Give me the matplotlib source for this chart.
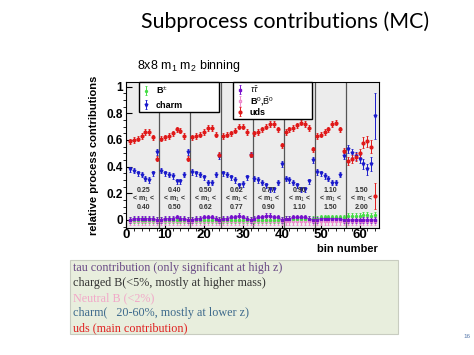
import numpy as np
import matplotlib.pyplot as plt
from matplotlib.patches import Rectangle
from matplotlib.ticker import FixedLocator, MultipleLocator, FuncFormatter

# 8x8 m1 m2 bins, 64 total
bins = list(range(1, 65))

uds = [0.59, 0.60, 0.61, 0.63, 0.66, 0.66, 0.62, 0.46,
       0.61, 0.62, 0.63, 0.65, 0.68, 0.67, 0.63, 0.46,
       0.62, 0.63, 0.64, 0.66, 0.69, 0.69, 0.64, 0.49,
       0.63, 0.64, 0.65, 0.67, 0.70, 0.70, 0.66, 0.49,
       0.65, 0.66, 0.68, 0.70, 0.72, 0.72, 0.68, 0.56,
       0.66, 0.68, 0.69, 0.71, 0.73, 0.72, 0.69, 0.53,
       0.63, 0.64, 0.66, 0.68, 0.72, 0.73, 0.68, 0.52,
       0.44, 0.46, 0.47, 0.50, 0.58, 0.59, 0.55, 0.18]
uds_err = [0.02] * 56 + [0.03, 0.03, 0.03, 0.03, 0.04, 0.04, 0.05, 0.10]

charm = [0.38, 0.37, 0.35, 0.34, 0.31, 0.30, 0.35, 0.51,
         0.37, 0.35, 0.34, 0.33, 0.29, 0.29, 0.34, 0.51,
         0.36, 0.35, 0.34, 0.32, 0.28, 0.28, 0.34, 0.48,
         0.35, 0.34, 0.32, 0.30, 0.26, 0.27, 0.32, 0.49,
         0.31, 0.30, 0.28, 0.26, 0.23, 0.23, 0.28, 0.42,
         0.31, 0.30, 0.28, 0.26, 0.23, 0.23, 0.29, 0.45,
         0.36, 0.35, 0.33, 0.31, 0.28, 0.28, 0.34, 0.48,
         0.53, 0.50, 0.48, 0.46, 0.42, 0.38, 0.42, 0.78]
charm_err = [0.02] * 56 + [0.03, 0.03, 0.03, 0.03, 0.04, 0.04, 0.05, 0.17]

tau = [0.00, 0.01, 0.01, 0.01, 0.01, 0.01, 0.01, 0.00,
       0.00, 0.01, 0.01, 0.01, 0.02, 0.01, 0.01, 0.00,
       0.00, 0.01, 0.01, 0.02, 0.02, 0.02, 0.01, 0.00,
       0.01, 0.01, 0.02, 0.02, 0.03, 0.02, 0.01, 0.00,
       0.01, 0.02, 0.02, 0.03, 0.03, 0.02, 0.02, 0.00,
       0.01, 0.01, 0.02, 0.02, 0.02, 0.02, 0.01, 0.00,
       0.00, 0.01, 0.01, 0.01, 0.01, 0.01, 0.01, 0.00,
       0.00, 0.00, 0.00, 0.00, 0.00, 0.00, 0.00, 0.00]

bpm = [0.00, 0.00, 0.00, 0.00, 0.00, 0.00, 0.00, 0.00,
       0.00, 0.00, 0.00, 0.00, 0.00, 0.00, 0.00, 0.00,
       0.00, 0.00, 0.00, 0.00, 0.00, 0.00, 0.00, 0.00,
       0.00, 0.00, 0.00, 0.00, 0.00, 0.00, 0.00, 0.00,
       0.00, 0.00, 0.00, 0.00, 0.00, 0.00, 0.00, 0.00,
       0.01, 0.01, 0.01, 0.01, 0.01, 0.01, 0.01, 0.01,
       0.01, 0.02, 0.02, 0.02, 0.02, 0.02, 0.02, 0.02,
       0.03, 0.03, 0.03, 0.03, 0.04, 0.04, 0.03, 0.04]

b0 = [-0.01] * 64

block_lo = ["0.25", "0.40", "0.50", "0.62", "0.77", "0.90", "1.10", "1.50"]
block_hi = ["0.40", "0.50", "0.62", "0.77", "0.90", "1.10", "1.50", "2.00"]

plt.rcParams['font.family'] = ['Liberation Sans', 'DejaVu Sans']
plt.rcParams['mathtext.fontset'] = 'custom'
plt.rcParams['mathtext.rm'] = 'Liberation Sans'
plt.rcParams['mathtext.it'] = 'Liberation Sans:italic'
plt.rcParams['mathtext.bf'] = 'Liberation Sans:bold'

fig = plt.figure(figsize=(4.74, 3.55), dpi=100)
ax = fig.add_axes([126 / 474, 1 - 228 / 355, 253 / 474, 146 / 355])
ax.set_facecolor('#ececec')

ekw = dict(linestyle='none', elinewidth=0.7, capsize=1.0, capthick=0.6)
ax.errorbar(bins, b0, yerr=0.025, marker='s', ms=1.8, mfc='white', mec='#ee88cc',
            color='#ee88cc', label='B$^0$,$\\bar{\\rm B}^0$', **ekw)
ax.errorbar(bins, bpm, yerr=0.02, marker='o', ms=1.4, color='#44dd44',
            label='B$^{\\pm}$', **ekw)
ax.errorbar(bins, tau, yerr=0.02, marker='s', ms=1.6, color='#7711cc',
            label='$\\tau\\bar{\\tau}$', **ekw)
ax.plot(bins, tau, color='#8822dd', lw=1.0, alpha=0.7)
ax.errorbar(bins, charm, yerr=charm_err, marker='v', ms=2.0, color='#1a1acc',
            label='charm', **ekw)
ax.errorbar(bins, uds, yerr=uds_err, marker='o', ms=2.0, color='#e01818',
            label='uds', **ekw)

for k in range(1, 8):
    ax.axvline(8 * k + 0.5, color='#555555', lw=0.9, zorder=0.5)

for k in range(8):
    xc = 8 * k + 4.5
    ax.text(xc, 0.225, block_lo[k], ha='center', va='center', fontsize=5, fontweight='bold', color='#333333')
    ax.text(xc, 0.16, '< m$_1$ <', ha='center', va='center', fontsize=5, fontweight='bold', color='#333333')
    ax.text(xc, 0.095, block_hi[k], ha='center', va='center', fontsize=5, fontweight='bold', color='#333333')

ax.set_xlim(0, 65)
ax.set_ylim(-0.06, 1.035)
ax.xaxis.set_major_locator(MultipleLocator(10))
ax.xaxis.set_minor_locator(MultipleLocator(2))
ax.yaxis.set_major_locator(FixedLocator([0, 0.2, 0.4, 0.6, 0.8, 1.0]))
ax.yaxis.set_minor_locator(MultipleLocator(0.05))
ax.yaxis.set_major_formatter(FuncFormatter(lambda v, p: '%g' % v))
ax.tick_params(which='major', length=4, width=0.8, pad=2)
ax.tick_params(which='minor', length=2, width=0.6)
ax.tick_params(axis='both', direction='in')
ax.tick_params(axis='y', labelsize=8.5)
ax.tick_params(axis='x', labelsize=9.5, pad=1)
for lbl in ax.get_xticklabels() + ax.get_yticklabels():
    lbl.set_fontweight('bold')

ax.set_ylabel('relative process contributions', fontsize=8, fontweight='bold', labelpad=6)
fig.text(378 / 474, 1 - 249 / 355, 'bin number', ha='right', va='center', fontsize=8, fontweight='bold')
fig.text(137 / 474, 1 - 66 / 355, '8x8 m$_1$ m$_2$ binning', ha='left', va='center', fontsize=9)

h, l = ax.get_legend_handles_labels()
lkw = dict(fancybox=False, edgecolor='black', framealpha=1,
           prop={'weight': 'bold', 'size': 6.5}, handlelength=1.0, handletextpad=0.6,
           borderpad=0.25, borderaxespad=0, mode='expand')
leg1 = ax.legend([h[1], h[3]], [l[1], l[3]], loc='upper left',
                 bbox_to_anchor=(0.051, 0.0, 0.317, 1.0), labelspacing=0.55, **lkw)
ax.add_artist(leg1)
ax.legend([h[2], h[0], h[4]], [l[2], l[0], l[4]], loc='upper left',
          bbox_to_anchor=(0.423, 0.0, 0.312, 1.0), labelspacing=0.0, **lkw)

fig.text(285 / 474, 1 - 22 / 355, 'Subprocess contributions (MC)', ha='center', va='center',
         fontsize=15.3, family='Lato')

fig.patches.append(Rectangle((70 / 474, 1 - 334 / 355), 328 / 474, 74 / 355, transform=fig.transFigure,
                             facecolor='#e8eedd', edgecolor='#c8ccc0', lw=0.8))
notes = ['tau contribution (only significant at high z)',
         'charged B(<5%, mostly at higher mass)',
         'Neutral B (<2%)',
         'charm(   20-60%, mostly at lower z)',
         'uds (main contribution)']
note_colors = ['#6a4a86', '#333333', '#f2a8c8', '#3e6a8c', '#e02020']
for i, (t, c) in enumerate(zip(notes, note_colors)):
    fig.text(73 / 474, 1 - (268 + 15 * i) / 355, t, ha='left', va='center', fontsize=8.7,
             family='Liberation Serif', color=c)

fig.text(467 / 474, 1 - 337 / 355, '16', ha='center', va='center', fontsize=4.5, color='#5577aa')

fig.savefig('out.png', dpi=100)
